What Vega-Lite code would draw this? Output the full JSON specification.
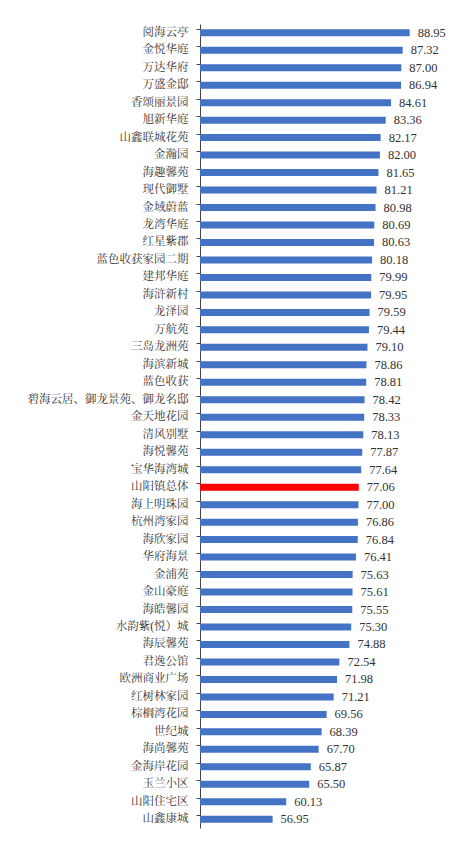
{
  "$schema": "https://vega.github.io/schema/vega-lite/v6.json",
  "autosize": "none",
  "width": 257,
  "height": 804,
  "padding": {"left": 200, "top": 24, "right": 17, "bottom": 25},
  "background": "white",
  "config": {"view": {"stroke": null}},
  "data": {"values": [
    {"name": "阅海云亭", "score": 88.95, "group": "小区"},
    {"name": "金悦华庭", "score": 87.32, "group": "小区"},
    {"name": "万达华府", "score": 87.00, "group": "小区"},
    {"name": "万盛金邸", "score": 86.94, "group": "小区"},
    {"name": "香颂丽景园", "score": 84.61, "group": "小区"},
    {"name": "旭新华庭", "score": 83.36, "group": "小区"},
    {"name": "山鑫联城花苑", "score": 82.17, "group": "小区"},
    {"name": "金瀚园", "score": 82.00, "group": "小区"},
    {"name": "海趣馨苑", "score": 81.65, "group": "小区"},
    {"name": "现代御墅", "score": 81.21, "group": "小区"},
    {"name": "金域蔚蓝", "score": 80.98, "group": "小区"},
    {"name": "龙湾华庭", "score": 80.69, "group": "小区"},
    {"name": "红星紫郡", "score": 80.63, "group": "小区"},
    {"name": "蓝色收获家园二期", "score": 80.18, "group": "小区"},
    {"name": "建邦华庭", "score": 79.99, "group": "小区"},
    {"name": "海浒新村", "score": 79.95, "group": "小区"},
    {"name": "龙泽园", "score": 79.59, "group": "小区"},
    {"name": "万航苑", "score": 79.44, "group": "小区"},
    {"name": "三岛龙洲苑", "score": 79.10, "group": "小区"},
    {"name": "海滨新城", "score": 78.86, "group": "小区"},
    {"name": "蓝色收获", "score": 78.81, "group": "小区"},
    {"name": "碧海云居、御龙景苑、御龙名邸", "score": 78.42, "group": "小区"},
    {"name": "金天地花园", "score": 78.33, "group": "小区"},
    {"name": "清风别墅", "score": 78.13, "group": "小区"},
    {"name": "海悦馨苑", "score": 77.87, "group": "小区"},
    {"name": "宝华海湾城", "score": 77.64, "group": "小区"},
    {"name": "山阳镇总体", "score": 77.06, "group": "总体"},
    {"name": "海上明珠园", "score": 77.00, "group": "小区"},
    {"name": "杭州湾家园", "score": 76.86, "group": "小区"},
    {"name": "海欣家园", "score": 76.84, "group": "小区"},
    {"name": "华府海景", "score": 76.41, "group": "小区"},
    {"name": "金浦苑", "score": 75.63, "group": "小区"},
    {"name": "金山豪庭", "score": 75.61, "group": "小区"},
    {"name": "海皓馨园", "score": 75.55, "group": "小区"},
    {"name": "水韵紫(悦）城", "score": 75.30, "group": "小区"},
    {"name": "海辰馨苑", "score": 74.88, "group": "小区"},
    {"name": "君逸公馆", "score": 72.54, "group": "小区"},
    {"name": "欧洲商业广场", "score": 71.98, "group": "小区"},
    {"name": "红树林家园", "score": 71.21, "group": "小区"},
    {"name": "棕榈湾花园", "score": 69.56, "group": "小区"},
    {"name": "世纪城", "score": 68.39, "group": "小区"},
    {"name": "海尚馨苑", "score": 67.70, "group": "小区"},
    {"name": "金海岸花园", "score": 65.87, "group": "小区"},
    {"name": "玉兰小区", "score": 65.50, "group": "小区"},
    {"name": "山阳住宅区", "score": 60.13, "group": "小区"},
    {"name": "山鑫康城", "score": 56.95, "group": "小区"}
  ]},
  "encoding": {
    "y": {
      "field": "name", "type": "nominal", "sort": null,
      "scale": {"paddingInner": 0.6, "paddingOuter": 0.3},
      "axis": {
        "title": null,
        "bandPosition": 0,
        "domainColor": "#444",
        "tickColor": "#444",
        "tickSize": 4,
        "labelPadding": 8,
        "labelFont": "Liberation Serif, Noto Serif CJK SC, Noto Sans CJK SC",
        "labelFontSize": 11.5,
        "labelColor": "#333",
        "labelLimit": 300
      }
    },
    "x": {
      "field": "score", "type": "quantitative",
      "scale": {"domain": [40, 100], "zero": false, "nice": false},
      "axis": null
    }
  },
  "layer": [
    {
      "mark": {"type": "bar", "clip": true},
      "encoding": {
        "color": {
          "field": "group", "type": "nominal",
          "scale": {"domain": ["小区", "总体"], "range": ["#4472C4", "#FF0000"]},
          "legend": null
        }
      }
    },
    {
      "mark": {"type": "text", "align": "left", "dx": 8, "font": "Liberation Serif", "fontSize": 12.5, "color": "#333"},
      "encoding": {
        "text": {"field": "score", "type": "quantitative", "format": ".2f"}
      }
    }
  ]
}
